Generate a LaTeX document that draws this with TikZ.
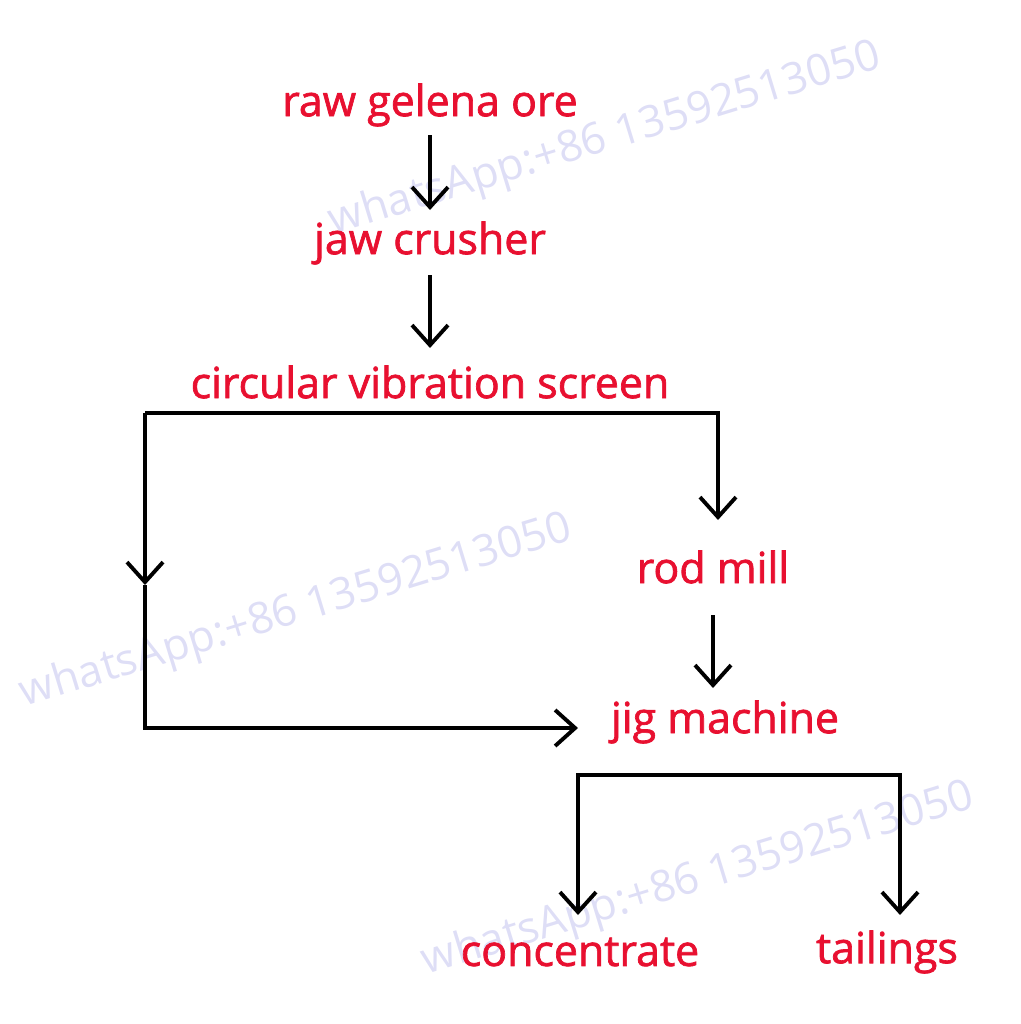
\documentclass[tikz,border=0pt]{standalone}
\usepackage{fontspec}
\setmainfont{Open Sans}
\newfontfamily\labfont{Open Sans}[FakeBold=1.6]
\usetikzlibrary{arrows.meta}
\definecolor{lbl}{RGB}{232,16,48}
\definecolor{wm}{RGB}{222,222,246}
\begin{document}
\begin{tikzpicture}[x=0.01cm,y=-0.01cm,
  lab/.style={text=lbl,font=\labfont\fontsize{12.2pt}{14pt}\selectfont,inner sep=0pt},
  wmk/.style={text=wm,font=\fontsize{12.4pt}{14pt}\selectfont,rotate=17,inner sep=0pt},
  fl/.style={line width=1.1pt,black},
  tip/.style={-{Straight Barb[length=0.2cm,width=0.36cm,line width=1.1pt]}}]
\useasboundingbox (0,0) rectangle (1021,1024);
\node[wmk] (w1) at (605,140) {whatsApp:+86 13592513050};
\node[wmk] (w2) at (296,612) {whatsApp:+86 13592513050};
\node[wmk] (w3) at (698,880) {whatsApp:+86 13592513050};
\node[lab] (raw) at (430,105) {raw gelena ore};
\node[lab] (jaw) at (430,243) {jaw crusher};
\node[lab] (scr) at (430,382) {circular vibration screen};
\node[lab] (rod) at (713,567) {rod mill};
\node[lab] (jig) at (725,722) {jig machine};
\node[lab] (con) at (580,952) {concentrate};
\node[lab] (tai) at (887,952) {tailings};
\coordinate (a1) at (430,135); \coordinate (a2) at (430,210);
\coordinate (b1) at (430,275); \coordinate (b2) at (430,348);
\coordinate (s1) at (145,413); \coordinate (s2) at (718,413);
\coordinate (r1) at (718,520);
\coordinate (m1) at (145,585); \coordinate (l1) at (145,728); \coordinate (j1) at (578,728);
\coordinate (d1) at (713,615); \coordinate (d2) at (713,688);
\coordinate (c0) at (578,775); \coordinate (t0) at (900,775);
\coordinate (c1) at (578,915); \coordinate (t1) at (900,915);
\draw[fl,tip] (a1) -- (a2);
\draw[fl,tip] (b1) -- (b2);
\draw[fl,tip] (s1) -- (s2) -- (r1);
\draw[fl,tip] (s1) -- (m1);
\draw[fl,tip] (m1) -- (l1) -- (j1);
\draw[fl,tip] (d1) -- (d2);
\draw[fl,tip] (t0) -- (c0) -- (c1);
\draw[fl,tip] (c0) -- (t0) -- (t1);
\end{tikzpicture}
\end{document}
